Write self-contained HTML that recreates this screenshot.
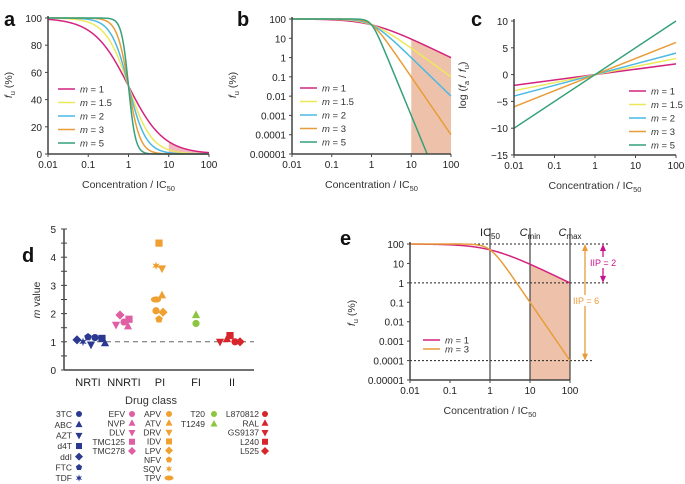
<!DOCTYPE html>
<html><head><meta charset="utf-8"><style>
body{margin:0;background:#fff}
svg{display:block;font-family:"Liberation Sans",Arial,sans-serif}
</style></head><body>
<svg id="fig" width="685" height="484" viewBox="0 0 685 484" xmlns="http://www.w3.org/2000/svg"></svg>
<script>
// ---- data ----
const hillSlopes = [1, 1.5, 2, 3, 5];
const slopeLabels = ["m = 1", "m = 1.5", "m = 2", "m = 3", "m = 5"];
const xTickLabels = ["0.01", "0.1", "1", "10", "100"];
const aTickValues = [0, 20, 40, 60, 80, 100];
const logTickLabels = ["100", "10", "1", "0.1", "0.01", "0.001", "0.0001", "0.00001"];
const cTickValues = [10, 5, 0, -5, -10, -15];
const cTickLabels = ["10", "5", "0", "\u22125", "\u221210", "\u221215"];
const eSlopes = [1, 3];
const eSlopeLabels = ["m = 1", "m = 3"];
const drugClasses = ["NRTI", "NNRTI", "PI", "FI", "II"];
const drugNames = [
  ["3TC","ABC","AZT","d4T","ddI","FTC","TDF"],
  ["EFV","NVP","DLV","TMC125","TMC278"],
  ["APV","ATV","DRV","IDV","LPV","NFV","SQV","TPV"],
  ["T20","T1249"],
  ["L870812","RAL","GS9137","L240","L525"]
];
const drugShapes = [
  ["circle","tri","dtri","square","diamond","pent","star"],
  ["circle","tri","dtri","square","diamond"],
  ["circle","tri","dtri","square","diamond","pent","star","oval"],
  ["circle","tri"],
  ["circle","tri","dtri","square","diamond"]
];
const mValues = [
  [1.15, 0.95, 0.9, 1.12, 1.07, 1.17, 1.0],
  [1.7, 1.55, 1.6, 1.8, 1.95],
  [2.1, 2.65, 3.6, 4.5, 2.05, 1.8, 3.7, 2.5],
  [1.65, 1.95],
  [1.0, 1.1, 1.0, 1.22, 1.0]
];
const dTickValues = [0, 1, 2, 3, 4, 5];
// ---- layout / style (not data) ----
const jitter = [
  [7, 17, 3, 14, -11, 0, -5],
  [0, 4, -8, 5, -4],
  [-4, 2, 2, -1, 3, -1, -4, -4],
  [0, 0],
  [3, -5, -12, -2, 8]
];
const lineColors = ["#d4237f", "#ede85a", "#4cb9e3", "#e89c3a", "#35a07a"];
const classColors = ["#2b3990", "#df5fa3", "#f0a030", "#8cc63f", "#d7262b"];
const shade = "#eec2aa";
const svg = document.getElementById('fig');
const NS = "http://www.w3.org/2000/svg";
function el(tag, attrs, parent) {
  const e = document.createElementNS(NS, tag);
  for (const k in attrs) e.setAttribute(k, attrs[k]);
  (parent || svg).appendChild(e);
  return e;
}
function txt(s, x, y, attrs, parent) {
  const t = el('text', Object.assign({x: x, y: y, 'font-size': 10, fill: '#222'}, attrs || {}), parent);
  t.textContent = s;
  return t;
}
function logX(x0, x1) { return v => x0 + (Math.log10(v) + 2) / 4 * (x1 - x0); }
function hill(c, m) { return 100 / (1 + Math.pow(c, m)); }
function concs() { const a = []; for (let i = 0; i <= 400; i++) a.push(Math.pow(10, -2 + i / 100)); return a; }

function panelLabel(g, s, x, y) {
  const t = txt(s, x, y, {'font-size': 20, 'font-weight': 'bold', fill: '#111'}, g);
  
  
}
function xAxis(g, X, y, x0, x1) {
  el('line', {x1: x0, y1: y, x2: x1, y2: y, stroke: '#444', 'stroke-width': 1.5}, g);
  xTickLabels.forEach((l, i) => {
    const v = Math.pow(10, i - 2);
    el('line', {x1: X(v), y1: y, x2: X(v), y2: y + 3, stroke: '#444'}, g);
    const t = txt(l, X(v), y + 14, {'text-anchor': 'middle'}, g);
    
    
  });
  const xt = el('text', {x: (x0 + x1) / 2, y: y + 34, 'text-anchor': 'middle', 'font-size': 10.5, fill: '#333'}, g);
  xt.innerHTML = 'Concentration / IC<tspan font-size="7.5" dy="3">50</tspan>';
  
  
}
function legend(g, x, y, labels, colors, step) {
  labels.forEach((l, i) => {
    const lg = el('g', {}, g);
    
    
    el('line', {x1: x, y1: y + i * step, x2: x + 17, y2: y + i * step, stroke: colors[i], 'stroke-width': 1.5}, lg);
    const t = el('text', {x: x + 22, y: y + i * step + 3.5, 'font-size': 9.5, fill: '#333'}, lg);
    t.innerHTML = '<tspan font-style="italic">m</tspan>' + l.slice(1);
  });
}
function yTitleFu(g, x, y) {
  const t = el('text', {x: x, y: y, 'font-size': 10.5, fill: '#333', 'text-anchor': 'middle', transform: `rotate(-90 ${x} ${y})`}, g);
  t.innerHTML = '<tspan font-style="italic">f</tspan><tspan font-size="7.5" dy="3">u</tspan><tspan dy="-3"> (%)</tspan>';
  
  
}

// ---- panel a ----
(function () {
  const g = el('g', {});  
  const X = logX(48, 209), Y = v => 154 - v / 100 * 136;
  panelLabel(g, 'a', 4, 26);
  let p = `M${X(10)},${Y(0)}`;
  concs().filter(c => c >= 10).forEach(c => p += ` L${X(c)},${Y(hill(c, 1))}`);
  p += ` L${X(100)},${Y(0)} Z`;
  const sh = el('path', {d: p, fill: '#f2b8c0'}, g);  
  hillSlopes.forEach((m, i) => {
    const d = concs().map((c, j) => (j ? 'L' : 'M') + X(c) + ',' + Y(hill(c, m))).join(' ');
    const l = el('path', {d: d, fill: 'none', stroke: lineColors[i], 'stroke-width': 1.5}, g);
     
  });
  el('line', {x1: 48, y1: 16, x2: 48, y2: 154, stroke: '#444', 'stroke-width': 1.5}, g);
  aTickValues.forEach(v => {
    el('line', {x1: 45, y1: Y(v), x2: 48, y2: Y(v), stroke: '#444'}, g);
    const t = txt(String(v), 42, Y(v) + 4, {'text-anchor': 'end'}, g);
     
  });
  xAxis(g, X, 154, 48, 209);
  yTitleFu(g, 12, 85);
  legend(g, 58, 89, slopeLabels, lineColors, 13.5);
})();

// ---- panel b ----
(function () {
  const g = el('g', {});  
  const X = logX(292, 451), Y = v => 19 + (2 - Math.log10(v)) * 135 / 7;
  const yb = 154;
  panelLabel(g, 'b', 237, 26);
  let p = `M${X(10)},${yb}`;
  concs().filter(c => c >= 10).forEach(c => p += ` L${X(c)},${Y(hill(c, 1))}`);
  p += ` L${X(100)},${yb} Z`;
  const sh = el('path', {d: p, fill: shade}, g);  
  const cp = el('clipPath', {id: 'clipb'}, g);
  el('rect', {x: 292, y: 10, width: 160, height: 144}, cp);
  hillSlopes.forEach((m, i) => {
    const d = concs().map((c, j) => (j ? 'L' : 'M') + X(c) + ',' + Y(hill(c, m))).join(' ');
    const l = el('path', {d: d, fill: 'none', stroke: lineColors[i], 'stroke-width': 1.5, 'clip-path': 'url(#clipb)'}, g);
     
  });
  el('line', {x1: 292, y1: 17, x2: 292, y2: yb, stroke: '#444', 'stroke-width': 1.5}, g);
  logTickLabels.forEach((l, i) => {
    const y = Y(100 / Math.pow(10, i));
    el('line', {x1: 289, y1: y, x2: 292, y2: y, stroke: '#444'}, g);
    const t = txt(l, 286, y + 4, {'text-anchor': 'end'}, g);
     
  });
  xAxis(g, X, yb, 292, 451);
  yTitleFu(g, 236, 85);
  legend(g, 300, 88, slopeLabels, lineColors, 13.5);
})();

// ---- panel c ----
(function () {
  const g = el('g', {});  
  const X = logX(514, 676), Y = v => 21 + (10 - v) * 134 / 25;
  panelLabel(g, 'c', 471, 26);
  hillSlopes.forEach((m, i) => {
    const d = [0.01, 100].map((c, j) => (j ? 'L' : 'M') + X(c) + ',' + Y(m * Math.log10(c))).join(' ');
    const l = el('path', {d: d, fill: 'none', stroke: lineColors[i], 'stroke-width': 1.5}, g);
     
  });
  el('line', {x1: 514, y1: 19, x2: 514, y2: 155, stroke: '#444', 'stroke-width': 1.5}, g);
  cTickValues.forEach((v, i) => {
    el('line', {x1: 511, y1: Y(v), x2: 514, y2: Y(v), stroke: '#444'}, g);
    const t = txt(cTickLabels[i], 508, Y(v) + 4, {'text-anchor': 'end'}, g);
     
  });
  xAxis(g, X, 155, 514, 676);
  const t = el('text', {x: 466, y: 85, 'font-size': 10.5, fill: '#333', 'text-anchor': 'middle', transform: 'rotate(-90 466 85)'}, g);
  t.innerHTML = 'log (<tspan font-style="italic">f</tspan><tspan font-size="7.5" dy="3">a</tspan><tspan dy="-3"> / </tspan><tspan font-style="italic">f</tspan><tspan font-size="7.5" dy="3">u</tspan><tspan dy="-3">)</tspan>';
   
  legend(g, 629, 91, slopeLabels, lineColors, 13.5);
})();

// ---- panel d ----
function marker(g, shape, x, y, color, s) {
  s = s || 3.6;
  let e;
  if (shape === 'circle') e = el('circle', {cx: x, cy: y, r: s}, g);
  else if (shape === 'square') e = el('rect', {x: x - s, y: y - s, width: 2 * s, height: 2 * s}, g);
  else if (shape === 'tri') e = el('polygon', {points: `${x},${y - s - 1} ${x + s + 0.5},${y + s - 0.5} ${x - s - 0.5},${y + s - 0.5}`}, g);
  else if (shape === 'dtri') e = el('polygon', {points: `${x},${y + s + 1} ${x + s + 0.5},${y - s + 0.5} ${x - s - 0.5},${y - s + 0.5}`}, g);
  else if (shape === 'diamond') e = el('polygon', {points: `${x},${y - s - 1} ${x + s + 1},${y} ${x},${y + s + 1} ${x - s - 1},${y}`}, g);
  else if (shape === 'pent') { let pts = []; for (let k = 0; k < 5; k++) { const a = -Math.PI / 2 + k * 2 * Math.PI / 5; pts.push((x + s * 1.1 * Math.cos(a)) + ',' + (y + s * 1.1 * Math.sin(a))); } e = el('polygon', {points: pts.join(' ')}, g); }
  else if (shape === 'star') { let pts = []; for (let k = 0; k < 12; k++) { const a = -Math.PI / 2 + k * Math.PI / 6; const r = k % 2 ? s * 0.5 : s * 1.2; pts.push((x + r * Math.cos(a)) + ',' + (y + r * Math.sin(a))); } e = el('polygon', {points: pts.join(' ')}, g); }
  else if (shape === 'oval') e = el('ellipse', {cx: x, cy: y, rx: s + 1.5, ry: s - 0.5}, g);
  e.setAttribute('fill', color);
  return e;
}
(function () {
  const g = el('g', {});  
  const Y = v => 370 - v * 28.2;
  const catX = i => 88 + i * 36;
  panelLabel(g, 'd', 22, 262);
  el('line', {x1: 64, y1: Y(5), x2: 64, y2: Y(0), stroke: '#444', 'stroke-width': 1.5}, g);
  el('line', {x1: 64, y1: Y(0), x2: 254, y2: Y(0), stroke: '#444', 'stroke-width': 1.5}, g);
  for (let v = 0; v <= 5; v += 0.5) el('line', {x1: 61, y1: Y(v), x2: 67, y2: Y(v), stroke: '#444'}, g);
  dTickValues.forEach(v => {
    const t = txt(String(v), 56, Y(v) + 4, {'text-anchor': 'end'}, g);
     
  });
  const yt = el('text', {x: 40, y: 300, 'font-size': 10.5, fill: '#333', 'text-anchor': 'middle', transform: 'rotate(-90 40 300)'}, g);
  yt.innerHTML = '<tspan font-style="italic">m</tspan> value';
   
  const ref = el('line', {x1: 97, y1: Y(1), x2: 254, y2: Y(1), stroke: '#666', 'stroke-dasharray': '5,4'}, g);
   
  drugClasses.forEach((c, i) => {
    const t = txt(c, catX(i), 386, {'text-anchor': 'middle', 'font-size': 11}, g);
     
    mValues[i].forEach((v, j) => {
      const m = marker(g, drugShapes[i][j], catX(i) + jitter[i][j], Y(v), classColors[i]);
      
      
    });
  });
  const xt = txt('Drug class', 151, 404, {'text-anchor': 'middle', 'font-size': 11, fill: '#333'}, g);
   
  const colLabelX = [72, 125, 161, 205, 259];
  const colSymX = [79, 132, 169, 214, 265];
  const colStep = [10.67, 9.25, 9.14, 10, 9.25];
  drugNames.forEach((names, i) => {
    names.forEach((n, j) => {
      const y = 414 + j * colStep[i];
      const lg = el('g', {}, g);
      
      
      txt(n, colLabelX[i], y + 3.2, {'text-anchor': 'end', 'font-size': 8.5, fill: '#333'}, lg);
      marker(lg, drugShapes[i][j], colSymX[i], y, classColors[i], 3);
    });
  });
})();

// ---- panel e ----
(function () {
  const g = el('g', {});  
  const X = logX(410, 570), Y = v => 244 + (2 - Math.log10(v)) * 136 / 7;
  const yb = 380;
  panelLabel(g, 'e', 340, 245);
  let p = `M${X(10)},${yb}`;
  concs().filter(c => c >= 10).forEach(c => p += ` L${X(c)},${Y(hill(c, 1))}`);
  p += ` L${X(100)},${yb} Z`;
  const sh = el('path', {d: p, fill: shade}, g);  
  [[100, 610], [1, 610], [0.0001, 593]].forEach(a => {
    el('line', {x1: 410, y1: Y(a[0]), x2: a[1], y2: Y(a[0]), stroke: '#222', 'stroke-dasharray': '2,2'}, g);
  });
  const vl = [[1, 'IC', '50'], [10, 'C', 'min'], [100, 'C', 'max']];
  vl.forEach(a => {
    el('line', {x1: X(a[0]), y1: 228, x2: X(a[0]), y2: yb, stroke: '#444', 'stroke-width': 1.2}, g);
    const t = el('text', {x: X(a[0]), y: 236, 'font-size': 11, fill: '#222', 'text-anchor': 'middle'}, g);
    t.innerHTML = (a[1] === 'C' ? '<tspan font-style="italic">C</tspan>' : 'IC') + '<tspan font-size="8" dy="3">' + a[2] + '</tspan>';
     
  });
  eSlopes.forEach((m, i) => {
    const col = lineColors[m === 1 ? 0 : 3];
    const d = concs().map((c, j) => (j ? 'L' : 'M') + X(c) + ',' + Y(hill(c, m))).join(' ');
    const l = el('path', {d: d, fill: 'none', stroke: col, 'stroke-width': 1.5}, g);
     
  });
  el('line', {x1: 410, y1: 242, x2: 410, y2: yb, stroke: '#444', 'stroke-width': 1.5}, g);
  logTickLabels.forEach((l, i) => {
    const y = Y(100 / Math.pow(10, i));
    el('line', {x1: 407, y1: y, x2: 410, y2: y, stroke: '#444'}, g);
    const t = txt(l, 404, y + 4, {'text-anchor': 'end'}, g);
     
  });
  xAxis(g, X, yb, 410, 570);
  yTitleFu(g, 355, 313);
  legend(g, 423, 340, eSlopeLabels, [lineColors[0], lineColors[3]], 9);
  const oc = '#e89c3a', mc = '#c8108a';
  el('line', {x1: 585, y1: Y(100) + 5, x2: 585, y2: Y(0.0001) - 5, stroke: oc, 'stroke-width': 1.3}, g);
  el('polygon', {points: `585,${Y(100)} 582,${Y(100) + 7} 588,${Y(100) + 7}`, fill: oc}, g);
  el('polygon', {points: `585,${Y(0.0001)} 582,${Y(0.0001) - 7} 588,${Y(0.0001) - 7}`, fill: oc}, g);
  el('line', {x1: 603, y1: Y(100) + 5, x2: 603, y2: Y(1) - 5, stroke: mc, 'stroke-width': 1.3}, g);
  el('polygon', {points: `603,${Y(100)} 600,${Y(100) + 7} 606,${Y(100) + 7}`, fill: mc}, g);
  el('polygon', {points: `603,${Y(1)} 600,${Y(1) - 7} 606,${Y(1) - 7}`, fill: mc}, g);
  el('rect', {x: 590, y: 257, width: 30, height: 11, fill: '#fff'}, g);
  const t2 = txt('IIP = 2', 590, 266, {'font-size': 9, fill: mc}, g);
   
  el('rect', {x: 573, y: 295, width: 28, height: 11, fill: '#fff'}, g);
  const t6 = txt('IIP = 6', 573, 304, {'font-size': 9, fill: oc}, g);
   
})();
</script>
</body></html>
